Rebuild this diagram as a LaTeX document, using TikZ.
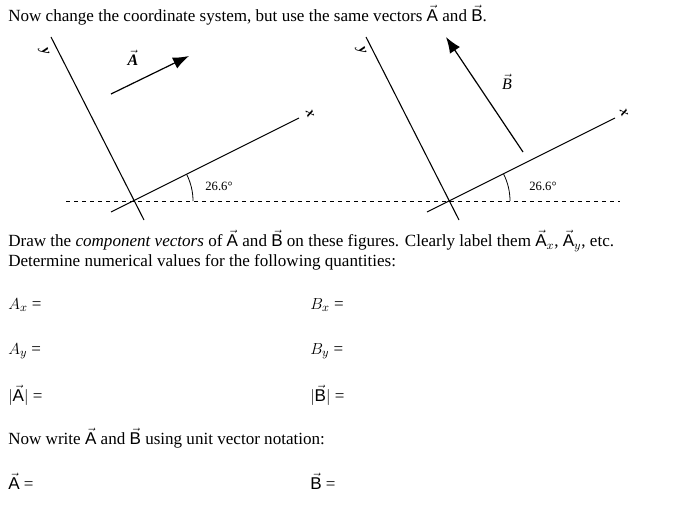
\documentclass[tikz,border=0pt]{standalone}
\usepackage{fontspec}
\setmainfont{Liberation Serif}
\setsansfont{Liberation Sans}
\usetikzlibrary{arrows.meta}
\newcommand{\vsA}{\ensuremath{\vec{\mbox{\sffamily A}}}}
\newcommand{\vsB}{\ensuremath{\vec{\mbox{\sffamily B}}}}
\begin{document}
\begin{tikzpicture}[x=0.75pt,y=-0.75pt,
  axis/.style={line width=0.8pt},
  vecarrow/.style={line width=0.9pt,-{Latex[length=12pt,width=9pt]}},
  txt/.style={anchor=west,inner sep=0pt,font=\fontsize{12.8}{14}\selectfont},
  lbl/.style={inner sep=0pt,font=\fontsize{9.5}{11}\selectfont},
  axl/.style={inner sep=0pt,font=\bfseries\itshape\fontsize{11}{12}\selectfont}]
\useasboundingbox (0,0) rectangle (682,510);
% title
\node[txt] (t1) at (8,15) {Now change the coordinate system, but use the same vectors \vsA{} and \vsB.};
% dashed baseline
\draw[dashed,line width=0.6pt] (66,201) -- (620,201);
% left figure
\coordinate (ya1) at (51,37); \coordinate (ya2) at (144,220);
\coordinate (xa1) at (111,212); \coordinate (xa2) at (299,118);
\draw[axis] (ya1) -- (ya2);
\draw[axis] (xa1) -- (xa2);
\node[axl,rotate=-70] (yl1) at (44,52) {y};
\node[axl,rotate=-70] (xl1) at (310,114) {x};
\coordinate (a1) at (111,94); \coordinate (a2) at (189,56);
\draw[vecarrow] (a1) -- (a2);
\node[lbl,font=\fontsize{12}{12}\selectfont] (al) at (133,58) {$\vec{\hbox{\bfseries\itshape A}}$};
\draw[line width=0.6pt] (193,201) arc[start angle=0,end angle=-26.6,radius=59];
\node[lbl] (ang1) at (219,186) {26.6\textdegree};
% right figure
\coordinate (yb1) at (366,37); \coordinate (yb2) at (459,220);
\coordinate (xb1) at (427,212); \coordinate (xb2) at (615,118);
\draw[axis] (yb1) -- (yb2);
\draw[axis] (xb1) -- (xb2);
\node[axl,rotate=-70] (yl2) at (361,51) {y};
\node[axl,rotate=-70] (xl2) at (624,113) {x};
\coordinate (b1) at (523,152); \coordinate (b2) at (446,37);
\draw[vecarrow] (b1) -- (b2);
\node[lbl,font=\fontsize{12}{12}\selectfont] (bl) at (507,82) {$\vec{\hbox{\itshape B}}$};
\draw[line width=0.6pt] (510,201) arc[start angle=0,end angle=-26.6,radius=60];
\node[lbl] (ang2) at (543,186) {26.6\textdegree};
% text
\node[txt] (t2) at (8,241) {Draw the \textit{component vectors} of \vsA{} and \vsB{} on these figures. Clearly label them $\vec{\mbox{\sffamily A}}_{x}$, $\vec{\mbox{\sffamily A}}_{y}$, etc.};
\node[txt] (t3) at (8,262) {Determine numerical values for the following quantities:};
\node[txt] (q1) at (8,305) {$A_x$ =};
\node[txt] (q2) at (310,305) {$B_x$ =};
\node[txt] (q3) at (8,351) {$A_y$ =};
\node[txt] (q4) at (310,351) {$B_y$ =};
\node[txt] (q5) at (8,395) {$|$\vsA$|$ =};
\node[txt] (q6) at (310,395) {$|$\vsB$|$ =};
\node[txt] (t4) at (8,438) {Now write \vsA{} and \vsB{} using unit vector notation:};
\node[txt] (q7) at (8,481) {\vsA{} =};
\node[txt] (q8) at (310,481) {\vsB{} =};
\end{tikzpicture}
\end{document}
